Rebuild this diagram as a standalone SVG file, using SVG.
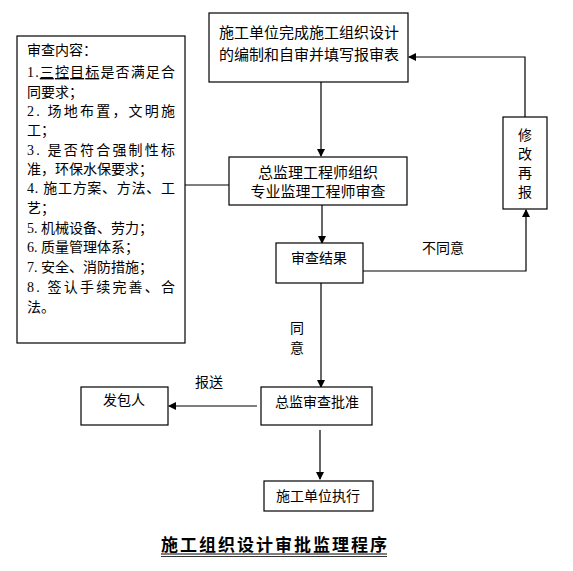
<svg xmlns="http://www.w3.org/2000/svg" width="573" height="571" viewBox="0 0 573 571">
<style>
.box{fill:#fff;stroke:#000;stroke-width:1.2}
.t{font-family:"Noto Sans CJK SC",sans-serif;font-size:14px;fill:#000}
.c{text-anchor:middle}
.l{font-family:"Liberation Serif","Noto Sans CJK SC",serif;font-size:14px;fill:#000}
.ln{fill:none;stroke:#000;stroke-width:1.2}
</style>
<defs>
<marker id="ah" markerWidth="8" markerHeight="8" refX="7" refY="4" orient="auto" markerUnits="userSpaceOnUse">
<path d="M0,0 L8,4 L0,8 Z" fill="#000"/>
</marker>
</defs>
<rect width="573" height="571" fill="#fff"/>
<g id="connectors">
<line class="ln" x1="321" y1="82" x2="321" y2="156" marker-end="url(#ah)"/>
<line class="ln" x1="185" y1="185" x2="229" y2="185"/>
<line class="ln" x1="322" y1="205" x2="322" y2="243" marker-end="url(#ah)"/>
<polyline class="ln" points="363,271 526,271 526,210" marker-end="url(#ah)"/>
<polyline class="ln" points="525,117 525,57 409,57" marker-end="url(#ah)"/>
<line class="ln" x1="321" y1="283" x2="321" y2="387" marker-end="url(#ah)"/>
<line class="ln" x1="257" y1="406" x2="169" y2="406" marker-end="url(#ah)"/>
<line class="ln" x1="320" y1="430" x2="320" y2="479" marker-end="url(#ah)"/>
<text class="t c" x="443" y="253">不同意</text>
<text class="t c" x="297" y="333">同</text>
<text class="t c" x="297" y="353">意</text>
<text class="t c" x="209" y="387">报送</text>
</g>
<g id="review-content">
<rect class="box" x="17" y="36" width="168" height="307"/>
<text class="l" x="27" y="55">审查内容：</text>
<text class="l" x="27" y="77" textLength="148" lengthAdjust="spacing">1.<tspan text-decoration="underline">三控目标</tspan>是否满足合</text>
<text class="l" x="27" y="97">同要求；</text>
<text class="l" x="27" y="116" textLength="148" lengthAdjust="spacing">2. 场地布置，文明施</text>
<text class="l" x="27" y="135">工；</text>
<text class="l" x="27" y="155" textLength="148" lengthAdjust="spacing">3. 是否符合强制性标</text>
<text class="l" x="27" y="174">准，环保水保要求；</text>
<text class="l" x="27" y="193" textLength="148" lengthAdjust="spacing">4. 施工方案、方法、工</text>
<text class="l" x="27" y="213">艺；</text>
<text class="l" x="27" y="233">5. 机械设备、劳力；</text>
<text class="l" x="27" y="252">6. 质量管理体系；</text>
<text class="l" x="27" y="272">7. 安全、消防措施；</text>
<text class="l" x="27" y="292" textLength="148" lengthAdjust="spacing">8. 签认手续完善、合</text>
<text class="l" x="27" y="312">法。</text>
</g>
<g id="submit">
<rect class="box" x="209" y="13" width="199" height="69"/>
<text class="t c" x="309" y="38" style="font-size:15px">施工单位完成施工组织设计</text>
<text class="t c" x="309" y="60" style="font-size:15px">的编制和自审并填写报审表</text>
</g>
<g id="review">
<rect class="box" x="229" y="157" width="178" height="48"/>
<text class="t c" x="318" y="178" style="font-size:15px">总监理工程师组织</text>
<text class="t c" x="318" y="197" style="font-size:15px">专业监理工程师审查</text>
</g>
<g id="modify">
<rect class="box" x="503" y="117" width="44" height="92"/>
<text class="t c" x="525" y="140">修</text>
<text class="t c" x="525" y="159">改</text>
<text class="t c" x="525" y="178">再</text>
<text class="t c" x="525" y="197">报</text>
</g>
<g id="result">
<rect class="box" x="276" y="243" width="87" height="40"/>
<text class="t c" x="319" y="263">审查结果</text>
</g>
<g id="approve">
<rect class="box" x="261" y="387" width="111" height="38"/>
<text class="t c" x="317" y="407">总监审查批准</text>
</g>
<g id="employer">
<rect class="box" x="81" y="387" width="87" height="38"/>
<text class="t c" x="124" y="405">发包人</text>
</g>
<g id="execute">
<rect class="box" x="264" y="481" width="109" height="30"/>
<text class="t c" x="318" y="501">施工单位执行</text>
</g>
<g id="title">
<text class="t" x="161" y="551" textLength="226" lengthAdjust="spacing" style="font-size:17px;font-weight:bold">施工组织设计审批监理程序</text>
<line x1="161" y1="554" x2="387" y2="554" stroke="#000" stroke-width="1.2"/>
<line x1="161" y1="556.5" x2="387" y2="556.5" stroke="#000" stroke-width="0.8"/>
</g>
</svg>
